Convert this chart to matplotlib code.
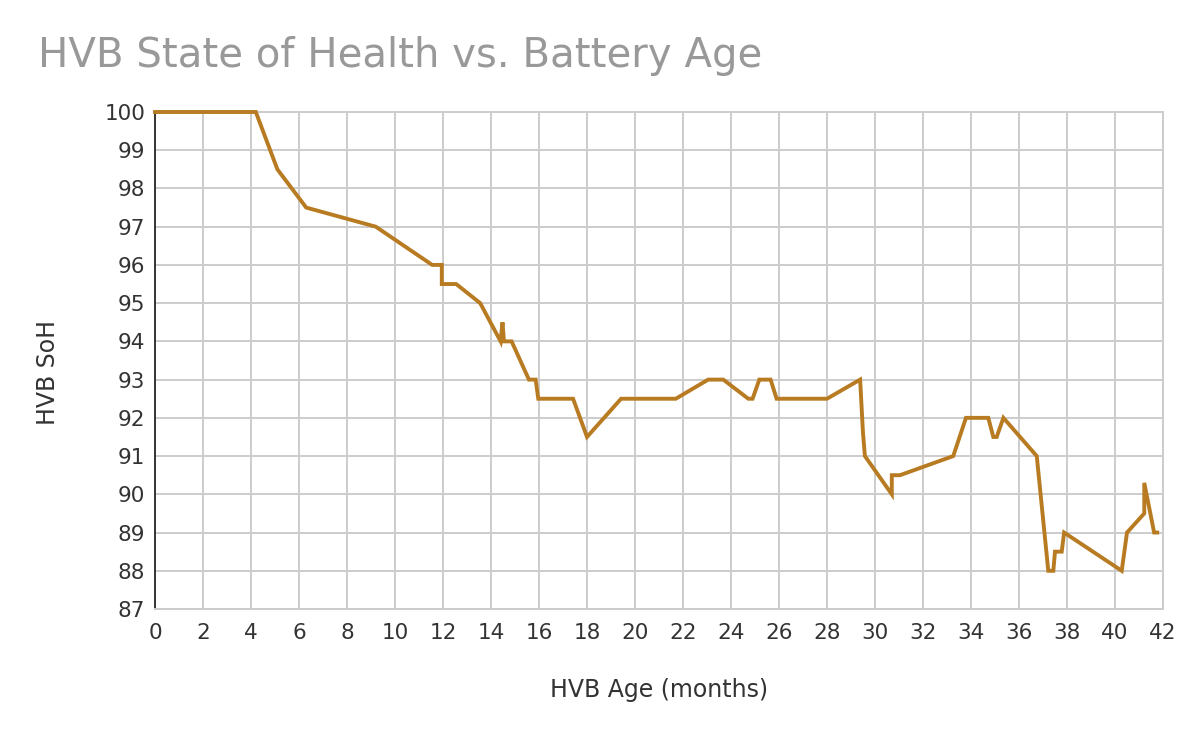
import matplotlib
matplotlib.use("Agg")
import matplotlib.pyplot as plt

# battery age in months and state of health
age_months = [0, 4.2, 5.1, 6.3, 9.2, 11.55, 11.95, 11.95, 12.55, 13.55, 14.4, 14.48, 14.54,
              14.86, 15.58, 15.86, 15.97, 17.42, 18.0, 19.42, 21.7, 23.05, 23.68, 24.72,
              24.9, 25.18, 25.65, 25.9, 28.0, 29.38, 29.5, 29.58, 30.7, 30.7, 31.04, 33.26,
              33.79, 34.72, 34.93, 35.07, 35.35, 36.74, 37.22, 37.43, 37.5, 37.78, 37.88,
              40.28, 40.5, 41.22, 41.22, 41.63, 41.76]
soh = [100, 100, 98.5, 97.5, 97, 96, 96, 95.5, 95.5, 95, 94, 94.5, 94,
       94, 93, 93, 92.5, 92.5, 91.5, 92.5, 92.5, 93, 93, 92.5,
       92.5, 93, 93, 92.5, 92.5, 93, 91.6, 91, 90, 90.5, 90.5, 91,
       92, 92, 91.5, 91.5, 92, 91, 88, 88, 88.5, 88.5, 89,
       88, 89, 89.5, 90.3, 89, 89]

x_ticks = list(range(0, 43, 2))
y_ticks = list(range(87, 101))

fig = plt.figure(figsize=(12, 7.42), dpi=100)
ax = fig.add_axes([155 / 1200, 1 - 609 / 742, 1008 / 1200, 497 / 742])

ax.plot(age_months, soh, color="#b87b22", linewidth=2.8, solid_joinstyle="miter",
        clip_on=False, zorder=3)

ax.set_xlim(0, 42)
ax.set_ylim(87, 100)
ax.set_xticks(x_ticks)
ax.set_yticks(y_ticks)
ax.grid(True, color="#cccccc", linewidth=1.4)
ax.set_axisbelow(True)
ax.tick_params(axis="both", length=0, labelsize=15.5, labelcolor="#333333")
ax.tick_params(axis="x", pad=10)
ax.tick_params(axis="y", pad=7)

for side in ["top", "right", "bottom"]:
    ax.spines[side].set_color("#cccccc")
    ax.spines[side].set_linewidth(1.4)
ax.spines["left"].set_color("#333333")
ax.spines["left"].set_linewidth(1.4)

ax.set_xlabel("HVB Age (months)", fontsize=17, color="#333333")
ax.set_ylabel("HVB SoH", fontsize=17, color="#333333")
ax.xaxis.set_label_coords(0.5, -0.163)
ax.yaxis.set_label_coords(-0.106, 0.475)
ax.xaxis.label.set_va("center")
ax.yaxis.label.set_va("center")

fig.text(38 / 1200, 1 - 56 / 742, "HVB State of Health vs. Battery Age",
         fontsize=29, color="#999999", va="center", ha="left")

fig.savefig("out.png", dpi=100, facecolor="white")
